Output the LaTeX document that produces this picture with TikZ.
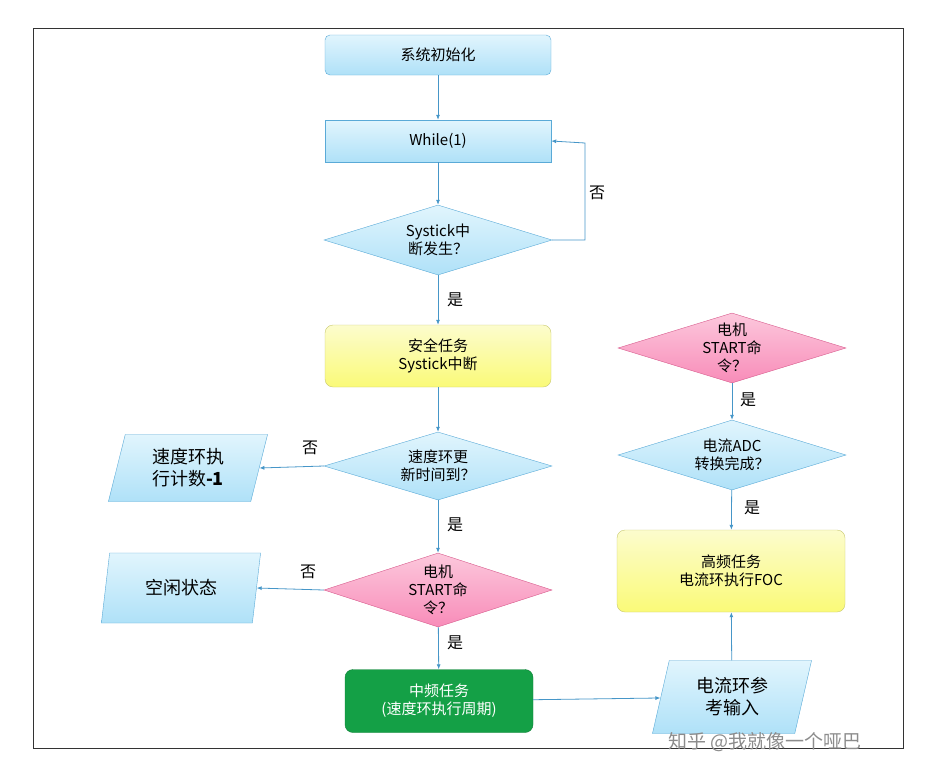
\documentclass[tikz,border=0pt]{standalone}
\usepackage{fontspec}
\setmainfont{Liberation Sans}
\newfontfamily\cjk{Noto Sans CJK SC}
\usetikzlibrary{shapes.geometric,arrows.meta}
\definecolor{bfill}{RGB}{175,225,248}
\definecolor{bfillt}{RGB}{225,245,253}
\definecolor{bline}{RGB}{90,170,215}
\definecolor{yfill}{RGB}{250,250,120}
\definecolor{yfillt}{RGB}{252,252,205}
\definecolor{yline}{RGB}{200,200,110}
\definecolor{pfill}{RGB}{248,140,185}
\definecolor{pfillt}{RGB}{252,200,220}
\definecolor{pline}{RGB}{215,90,140}
\definecolor{gfill}{RGB}{20,160,70}
\definecolor{arr}{RGB}{70,150,200}
\begin{document}
\begin{tikzpicture}[x=1pt,y=-1pt,
  font=\cjk\fontsize{15}{18}\selectfont,
  box/.style={draw=bline,top color=bfillt,bottom color=bfill,minimum width=226pt,align=center,inner sep=0},
  rbox/.style={box,rounded corners=5pt},
  ybox/.style={rounded corners=8pt,draw=yline,top color=yfillt,bottom color=yfill,align=center,inner sep=0},
  dia/.style={diamond,draw=bline,top color=bfillt,bottom color=bfill,aspect=3.2,inner sep=0,align=center},
  pdia/.style={dia,draw=pline,top color=pfillt,bottom color=pfill},
  para/.style={trapezium,trapezium left angle=76,trapezium right angle=104,trapezium stretches=true,draw=bline,top color=bfillt,bottom color=bfill,align=center,inner sep=0,font=\cjk\fontsize{18}{22}\selectfont},
  a/.style={-{Latex[length=5pt,width=4pt]},arr,line width=0.8pt},
  lab/.style={font=\cjk\fontsize{16}{18}\selectfont}]
\useasboundingbox (0,0) rectangle (932,782);
\draw[line width=1pt,black!80] (33,28) rectangle (903,748);
\node[rbox,minimum height=40pt] (init) at (438,55) {系统初始化};
\node[box,minimum height=42pt] (while) at (438,141) {While(1)};
\node[dia,minimum width=228pt,minimum height=70pt] (sys) at (438,240) {Systick中\\断发生？};
\node[ybox,minimum width=226pt,minimum height=62pt] (safe) at (438,356) {安全任务\\Systick中断};
\node[dia,minimum width=228pt,minimum height=68pt] (spd) at (438,466) {速度环更\\新时间到？};
\node[para,minimum width=160pt,minimum height=67pt] (cnt) at (188,468) {速度环执\\行计数\textbf{-1}};
\node[pdia,minimum width=228pt,minimum height=74pt] (mot) at (438,590) {电机\\START命\\令？};
\node[para,minimum width=160pt,minimum height=70pt] (idle) at (181,588) {空闲状态};
\node[rounded corners=8pt,fill=gfill,draw=gfill!80!black,text=white,minimum width=188pt,minimum height=63pt,align=center] (mid) at (439,701) {中频任务\\(速度环执行周期)};
\node[para,minimum width=160pt,minimum height=73pt] (ref) at (732,697) {电流环参\\考输入};
\node[ybox,minimum width=228pt,minimum height=82pt] (high) at (731,571) {高频任务\\电流环执行FOC};
\node[dia,minimum width=228pt,minimum height=70pt] (adc) at (732,455) {电流ADC\\转换完成？};
\node[pdia,minimum width=228pt,minimum height=70pt] (mot2) at (732,348) {电机\\START命\\令？};
\draw[a] (init) -- (while);
\draw[a] (while) -- (sys);
\draw[a] (sys.east) -- (585,240) -- (585,143) -- (while.east);
\node[lab] (n1) at (597,193) {否};
\draw[a] (sys) -- (safe);
\node[lab] (y1) at (455,300) {是};
\draw[a] (safe) -- (spd);
\draw[a] (spd.west) -- (cnt.east);
\node[lab] (n2) at (310,448) {否};
\draw[a] (spd) -- (mot);
\node[lab] (y2) at (455,525) {是};
\draw[a] (mot.west) -- (idle.east);
\node[lab] (n3) at (308,572) {否};
\draw[a] (mot) -- (mid);
\node[lab] (y3) at (455,643) {是};
\draw[a] (mid) -- (ref);
\draw[a] (ref) -- (high);
\draw[a] (mot2) -- (adc);
\node[lab] (y4) at (748,400) {是};
\draw[a] (adc) -- (high);
\node[lab] (y5) at (752,508) {是};
\node[text=black!45,font=\cjk\fontsize{19}{22}\selectfont] (wm) at (765,742) {知乎 @我就像一个哑巴};
\end{tikzpicture}
\end{document}
